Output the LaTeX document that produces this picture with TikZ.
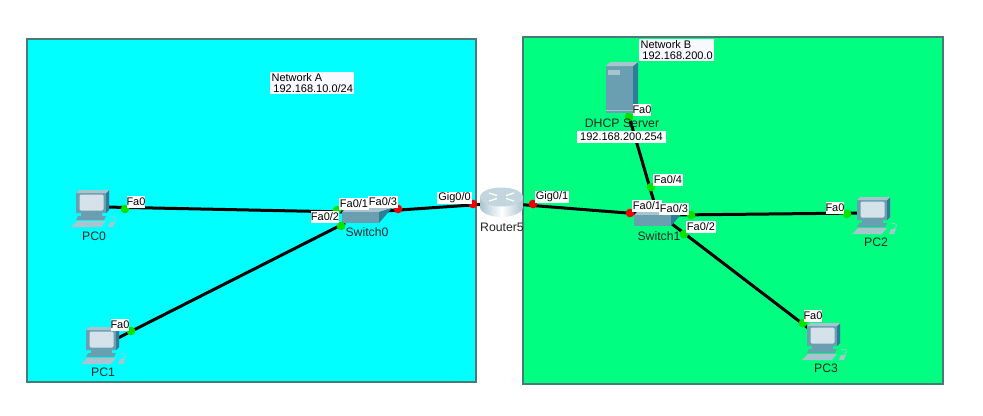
\documentclass[tikz,border=0pt]{standalone}
\usepackage{fontspec}
\setmainfont{Liberation Sans}
\definecolor{netA}{HTML}{00FFFF}
\definecolor{netB}{HTML}{00FF80}
\definecolor{edge}{HTML}{4A7A78}
\definecolor{icoFront}{HTML}{6A9FB2}
\definecolor{icoDark}{HTML}{2F7C96}
\definecolor{icoLight}{HTML}{A9C4CF}
\definecolor{icoScreen}{HTML}{D6E2EA}
\definecolor{portG}{HTML}{00E400}
\definecolor{portR}{HTML}{F00000}
\definecolor{noteBg}{HTML}{F8F8FF}
\tikzset{
  x=0.75pt,y=-0.75pt,
  zone/.style={draw=edge,line width=1.5pt},
  link/.style={line width=2.25pt,black},
  lab/.style={fill=white,inner sep=0pt,minimum height=9pt,font=\fontsize{8.25}{9.5}\selectfont,text=black},
  capt/.style={inner sep=0pt,font=\fontsize{9.2}{10.5}\selectfont,text=black!85},
  note/.style={fill=noteBg,inner sep=1pt,align=left,font=\fontsize{8.25}{9.5}\selectfont,text=black},
  upg/.style={circle,fill=portG,inner sep=0pt,minimum size=6.5pt},
  dnr/.style={circle,fill=portR,inner sep=0pt,minimum size=6.5pt},
  pcicon/.pic={
    \fill[icoFront] (-1,3) -- (2,0) -- (32,0) -- (32,20) -- (29,23) -- (-1,23) -- cycle;
    \fill[icoDark] (29,3) -- (32,0) -- (32,20) -- (29,23) -- cycle;
    \fill[icoLight] (-1,3) -- (2,0) -- (32,0) -- (29,3) -- cycle;
    \fill[icoScreen,rounded corners=1pt] (2.5,4.5) rectangle (26.5,20.5);
    \fill[icoFront] (4,23) rectangle (25,26);
    \fill[icoFront] (1,26) -- (29,26) -- (27,30) -- (-1,30) -- cycle;
    \fill[icoLight] (-6,37) -- (0,31) -- (29,31) -- (24,37) -- cycle;
    \fill[icoLight] (31,37) -- (33,32) -- (38,32) -- (36,37) -- cycle;
    \draw[icoLight,line width=.5pt] (36,32) .. controls (38,29) and (40,29) .. (38,27) -- (33,26);
  },
  swicon/.pic={
    \fill[icoLight] (0,0) -- (4,-4) -- (50,-4) -- (37,0) -- cycle;
    \fill[icoDark] (37,0) -- (50,-4) -- (37,11) -- cycle;
    \fill[icoFront] (0,0) rectangle (37,11);
  }
}
\begin{document}
\begin{tikzpicture}
\useasboundingbox (0,0) rectangle (983,415);
\fill[white] (0,0) rectangle (983,415);
\draw[zone,fill=netA] (27,39) rectangle (476,382);
\draw[zone,fill=netB] (523,37) rectangle (943,384);

% device anchors
\coordinate (pc0) at (105,207);
\coordinate (pc1) at (116,339);
\coordinate (pc2) at (862,213);
\coordinate (pc3) at (812,331);
\coordinate (srv) at (628,113);
\coordinate (sw0a) at (345,212);
\coordinate (sw0b) at (345,223);
\coordinate (sw0c) at (385,211);
\coordinate (sw1a) at (640,214);
\coordinate (sw1b) at (675,215);
\coordinate (sw1c) at (672,224);
\coordinate (sw1d) at (657,212);
\coordinate (rt) at (501,203);

% connectors
\draw[link] (pc0) -- (sw0a);
\draw[link] (pc1) -- (sw0b);
\draw[link] (sw0c) -- (rt);
\draw[link] (rt) -- (sw1a);
\draw[link] (sw1b) -- (pc2);
\draw[link] (sw1c) -- (pc3);
\draw[link] (srv) -- (sw1d);

% icons
\pic at (77,190) {pcicon};
\pic at (87,327) {pcicon};
\pic at (858,197) {pcicon};
\pic at (808,323) {pcicon};
\pic at (342,212) {swicon};
\pic at (634,215) {swicon};

% server
\fill[icoFront] (606,66) rectangle (633,113);
\fill[icoDark] (633,66) -- (638,62) -- (638,109) -- (633,113) -- cycle;
\fill[icoLight] (606,66) -- (610,62) -- (638,62) -- (633,66) -- cycle;
\fill[icoLight] (608,70) rectangle (620,75);
\fill[icoLight] (606,110) rectangle (633,111);

% router
\shade[left color=icoLight,right color=icoLight,middle color=white] (480,197) -- (480,207) arc[start angle=180,end angle=0,x radius=21.5,y radius=10] -- (523,197) -- cycle;
\fill[icoLight!70] (501.5,197) ellipse[x radius=21.5,y radius=9.5];
\draw[white,line width=1pt] (489,193) -- (497,195.5) (514,193) -- (506,195.5) (489,201) -- (497,198.5) (514,201) -- (506,198.5);

% ports
\node[upg] (p0) at (125,209) {};
\node[upg] (p1) at (131,331) {};
\node[upg] (p2) at (847,214) {};
\node[upg] (p3) at (803,323) {};
\node[upg] (ps) at (629,117) {};
\node[upg] (s0p1) at (337,210) {};
\node[upg] (s0p2) at (341,226) {};
\node[dnr] (s0p3) at (398,209) {};
\node[dnr] (rp0) at (473,204) {};
\node[dnr] (rp1) at (533,204) {};
\node[dnr] (s1p1) at (630,213) {};
\node[upg] (s1p3) at (691,215) {};
\node[upg] (s1p2) at (684,234) {};
\node[upg] (s1p4) at (651,187) {};

% device captions
\node[capt] (n0) at (94,236) {PC0};
\node[capt] (n1) at (103,372) {PC1};
\node[capt] (n2) at (876,242) {PC2};
\node[capt] (n3) at (826,368) {PC3};
\node[capt] (n4) at (367,232) {Switch0};
\node[capt] (n5) at (659,236) {Switch1};
\node[capt] (n6) at (502,227) {Router5};
\node[capt] (n7) at (622,123) {DHCP Server};

% port labels
\node[lab] (l0) at (136,202) {Fa0};
\node[lab] (l1) at (120,325) {Fa0};
\node[lab] (l2) at (835,208) {Fa0};
\node[lab] (l3) at (813,316) {Fa0};
\node[lab] (l4) at (642,110) {Fa0};
\node[lab,minimum width=23pt] (l5) at (354,204) {Fa0/1};
\node[lab] (l6) at (325,217) {Fa0/2};
\node[lab,minimum width=23pt] (l7) at (383,202) {Fa0/3};
\node[lab,minimum width=26pt] (l8) at (454.5,198) {Gig0/0};
\node[lab,minimum width=26pt] (l9) at (552,197) {Gig0/1};
\node[lab,minimum width=23pt] (l10) at (647,206) {Fa0/1};
\node[lab,minimum width=23pt] (l11) at (674,208.5) {Fa0/3};
\node[lab,minimum width=23pt] (l12) at (701,227) {Fa0/2};
\node[lab,minimum width=23pt] (l13) at (668,180) {Fa0/4};

% notes
\node[lab,minimum width=66.75pt] (a1) at (621.5,136.5) {192.168.200.254};
\node[note,anchor=north west] (na) at (270,72) {Network A\\[-1pt]\,192.168.10.0/24};
\node[note,anchor=north west] (nb) at (639,39) {Network B\\[-1pt]\,192.168.200.0};
\end{tikzpicture}
\end{document}
